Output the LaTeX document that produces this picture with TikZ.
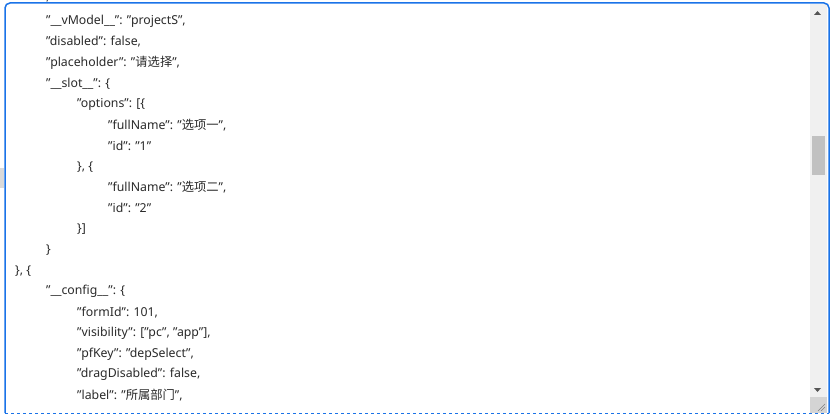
\documentclass[tikz,border=0pt]{standalone}
\usepackage{fontspec}
\setmainfont{Noto Sans}
\newfontfamily\cjk{Noto Sans CJK SC}
\newcommand\qq{\char34\relax}
\definecolor{frame}{HTML}{1A73E8}
\definecolor{txt}{HTML}{2A2A2A}
\definecolor{sbar}{HTML}{F0F0F0}
\definecolor{thumb}{HTML}{C1C1C1}
\begin{document}
\begin{tikzpicture}[x=1pt,y=-1pt,
  ln/.style={anchor=west,inner sep=0pt,text=txt,font=\fontsize{12.3}{14}\selectfont}]
\useasboundingbox (0,0) rectangle (836,417);
\fill[white] (0,0) rectangle (836,417);
% scrollbar
\fill[sbar] (810,4) rectangle (827,413);
\fill[thumb] (812,136) rectangle (825,175);
\fill[txt!80] (814,15) -- (821,15) -- (817.5,11) -- cycle;
\fill[txt!80] (814,388) -- (821,388) -- (817.5,392) -- cycle;
\fill[thumb!70] (810,397) rectangle (827,413);
\draw[txt!60,line width=0.4] (818,411) -- (825,404) (821,411) -- (825,407);
% frame
\draw[frame,line width=1.5] (5,413) -- (5,8) arc[start angle=180,end angle=270,radius=5] -- (824,3) arc[start angle=270,end angle=360,radius=5] -- (829,413);
\draw[frame,dashed,line width=0.8] (5,413) -- (829,413);
% left tab
\fill[thumb!60] (0,168) rectangle (4,188);
\node[ln] (t0) at (46,1) {,};
\node[ln] (l1) at (46,21) {\qq\_\_vModel\_\_\qq: \qq projectS\qq,};
\node[ln] (l2) at (46,41.8) {\qq disabled\qq: false,};
\node[ln] (l3) at (46,62.6) {\qq placeholder\qq: \qq{\cjk 请选择}\qq,};
\node[ln] (l4) at (46,83.4) {\qq\_\_slot\_\_\qq: \{};
\node[ln] (l5) at (77,104.2) {\qq options\qq: [\{};
\node[ln] (l6) at (108,125) {\qq fullName\qq: \qq{\cjk 选项一}\qq,};
\node[ln] (l7) at (108,145.8) {\qq id\qq: \qq 1\qq};
\node[ln] (l8) at (77,166.6) {\}, \{};
\node[ln] (l9) at (108,187.4) {\qq fullName\qq: \qq{\cjk 选项二}\qq,};
\node[ln] (l10) at (108,208.2) {\qq id\qq: \qq 2\qq};
\node[ln] (l11) at (77,229) {\}]};
\node[ln] (l12) at (46,249.8) {\}};
\node[ln] (l13) at (15,270.6) {\}, \{};
\node[ln] (l14) at (46,291.4) {\qq\_\_config\_\_\qq: \{};
\node[ln] (l15) at (77,312.2) {\qq formId\qq: 101,};
\node[ln] (l16) at (77,333) {\qq visibility\qq: [\qq pc\qq, \qq app\qq],};
\node[ln] (l17) at (77,353.8) {\qq pfKey\qq: \qq depSelect\qq,};
\node[ln] (l18) at (77,374.6) {\qq dragDisabled\qq: false,};
\node[ln] (l19) at (77,395.4) {\qq label\qq: \qq{\cjk 所属部门}\qq,};
\end{tikzpicture}
\end{document}
